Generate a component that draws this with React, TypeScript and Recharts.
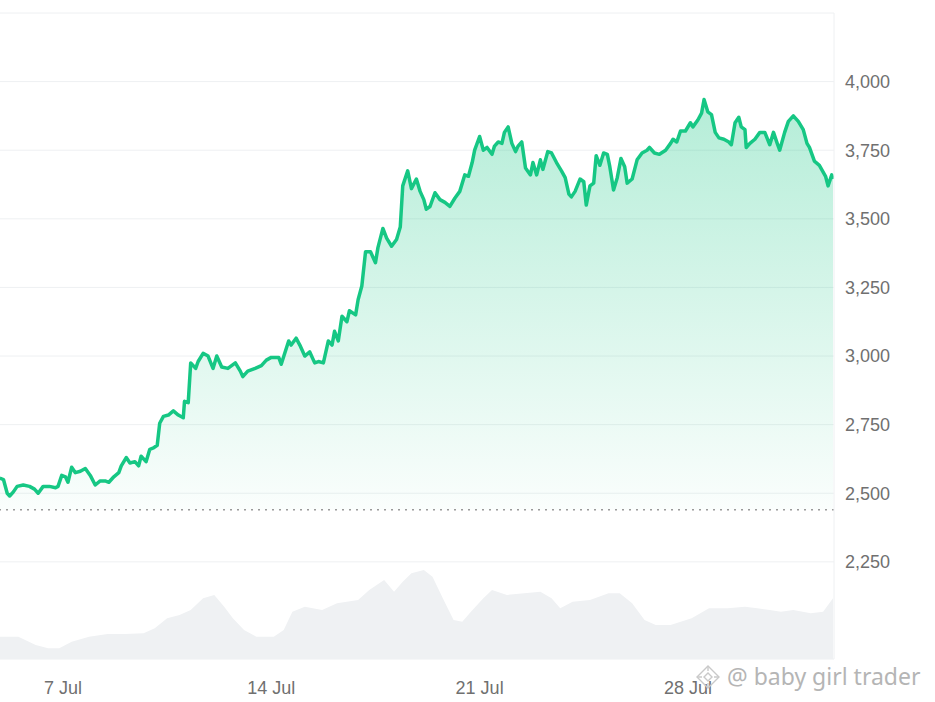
import React from 'react';
import { ComposedChart, Area, XAxis, YAxis, CartesianGrid, ReferenceLine } from 'recharts';

// time in hours since 1 Jul 00:00
const priceHours = [
  93, 96, 99, 101, 104, 107, 112, 117, 121, 124,
  128, 133, 138, 140, 143, 146, 148, 151, 154, 158,
  162, 166, 170, 174, 178, 181, 185, 189, 191, 195,
  198, 202, 205, 207, 211, 214, 217, 220, 222, 225,
  229, 233, 237, 241, 242, 245, 247, 251, 253, 257,
  261, 265, 268, 272, 277, 283, 287, 289, 293, 299,
  304, 308, 312, 318, 320, 326, 328, 332, 335, 339,
  343, 347, 350, 354, 358, 361, 363, 366, 369, 373,
  375, 380, 382, 385, 388, 392, 396, 398, 402, 405,
  409, 413, 416, 418, 422, 425, 429, 432, 435, 437,
  440, 444, 448, 452, 456, 460, 464, 468, 471, 474,
  476, 480, 483, 486, 490, 492, 495, 498, 500, 503,
  506, 509, 511, 514, 517, 521, 523, 526, 529, 531,
  535, 538, 542, 546, 549, 552, 554, 557, 561, 564,
  566, 569, 572, 574, 577, 580, 583, 585, 588, 591,
  594, 597, 599, 603, 607, 611, 615, 617, 621, 625,
  630, 634, 636, 639, 642, 646, 650, 652, 656, 659,
  661, 664, 667, 670, 673, 677, 681, 683, 686, 689,
  691, 694, 695, 698, 702, 706, 710, 714, 717, 720,
  722, 726, 729, 733, 737, 741, 744, 746, 750, 754,
  759, 761, 764, 765,
];

const priceValues = [
  2555, 2550, 2500, 2490, 2505, 2525, 2530, 2525, 2515, 2500,
  2525, 2525, 2520, 2525, 2565, 2560, 2540, 2595, 2575, 2580,
  2590, 2565, 2530, 2545, 2545, 2540, 2560, 2575, 2600, 2630,
  2610, 2615, 2600, 2635, 2615, 2660, 2665, 2675, 2755, 2780,
  2785, 2800, 2785, 2775, 2835, 2830, 2975, 2955, 2980, 3010,
  3000, 2955, 3000, 2960, 2955, 2975, 2945, 2925, 2945, 2955,
  2965, 2985, 2995, 2995, 2970, 3055, 3040, 3065, 3040, 3000,
  3015, 2975, 2980, 2975, 3055, 3040, 3090, 3055, 3145, 3125,
  3165, 3150, 3205, 3255, 3380, 3380, 3340, 3395, 3465, 3430,
  3400, 3425, 3470, 3620, 3675, 3610, 3645, 3600, 3570, 3535,
  3545, 3595, 3570, 3560, 3545, 3575, 3600, 3660, 3655, 3705,
  3750, 3800, 3750, 3760, 3735, 3765, 3780, 3775, 3815, 3835,
  3775, 3745, 3765, 3780, 3685, 3660, 3705, 3660, 3715, 3680,
  3745, 3740, 3705, 3675, 3650, 3590, 3580, 3600, 3645, 3635,
  3550, 3620, 3630, 3730, 3695, 3740, 3735, 3690, 3605, 3650,
  3720, 3690, 3630, 3645, 3715, 3740, 3750, 3760, 3740, 3735,
  3750, 3775, 3790, 3780, 3820, 3820, 3850, 3835, 3860, 3885,
  3935, 3890, 3880, 3815, 3795, 3790, 3780, 3770, 3850, 3870,
  3835, 3825, 3760, 3775, 3790, 3815, 3815, 3770, 3815, 3775,
  3750, 3815, 3855, 3875, 3855, 3825, 3775, 3760, 3710, 3695,
  3655, 3620, 3660, 3645,
];

const volumeHours = [
  93, 108, 122, 132, 141, 151, 165, 180, 194, 209,
  218, 228, 238, 247, 257, 266, 274, 281, 290, 300,
  314, 322, 329, 339, 353, 365, 382, 391, 403, 411,
  418, 425, 435, 442, 451, 459, 466, 473, 483, 490,
  502, 516, 529, 538, 545, 555, 569, 584, 593, 603,
  613, 622, 634, 651, 665, 680, 694, 704, 714, 723,
  733, 747, 757, 765,
];

const volumeValues = [
  2.76, 2.76, 1.73, 1.33, 1.33, 2.14, 2.76, 3.1, 3.1, 3.18,
  3.8, 5.04, 5.45, 6.07, 7.52, 7.93, 6.48, 5.04, 3.59, 2.76,
  2.76, 3.59, 5.86, 6.48, 6.07, 6.9, 7.31, 8.54, 9.78, 8.33,
  9.57, 10.61, 11.02, 10.19, 7.31, 4.83, 4.62, 5.86, 7.52, 8.54,
  7.93, 8.14, 8.33, 7.52, 6.28, 7.1, 7.31, 8.14, 8.14, 6.9,
  4.83, 4.21, 4.21, 5.04, 6.28, 6.28, 6.48, 6.28, 6.07, 5.86,
  6.07, 5.66, 5.86, 7.52,
];

const xTicks = [144, 312, 480, 648];
const xLabels = ['7 Jul', '14 Jul', '21 Jul', '28 Jul'];
const yTicks = [2250, 2500, 2750, 3000, 3250, 3500, 3750, 4000, 4250];
const baselinePrice = 2440;
const watermark = '@ baby girl trader';

type Row = { t: number; price?: number; volume?: number };

const rows: Row[] = (() => {
  const m = new Map<number, Row>();
  priceHours.forEach((t, i) => {
    const r = m.get(t) ?? { t };
    r.price = priceValues[i];
    m.set(t, r);
  });
  volumeHours.forEach((t, i) => {
    const r = m.get(t) ?? { t };
    r.volume = volumeValues[i];
    m.set(t, r);
  });
  return Array.from(m.values()).sort((a, b) => a.t - b.t);
})();

const fmtDate = (t: number) => {
  const i = xTicks.indexOf(t);
  return i >= 0 ? xLabels[i] : '';
};
const fmtPrice = (v: number) => (v >= 4250 ? '' : v.toLocaleString('en-US'));

const tickStyle = { fill: '#707070', fontSize: 18, fontFamily: '"Liberation Sans", Arial, sans-serif' };

export default function App() {
  return (
    <div style={{ position: 'absolute', left: 0, top: 0, width: 935, height: 702, background: '#fff' }}>
      <ComposedChart width={935} height={702} data={rows} margin={{ top: 13, right: 0, bottom: 0, left: 0 }}>
        <defs>
          <linearGradient id="priceFill" x1="0" y1="0" x2="0" y2="1">
            <stop offset="0%" stopColor="#16c784" stopOpacity={0.32} />
            <stop offset="100%" stopColor="#16c784" stopOpacity={0.02} />
          </linearGradient>
        </defs>
        <CartesianGrid yAxisId="price" vertical={false} stroke="#eef0f2" strokeWidth={1} />
        <XAxis
          dataKey="t"
          type="number"
          domain={[93.2, 765.8]}
          ticks={xTicks}
          tickFormatter={fmtDate}
          axisLine={false}
          tickLine={false}
          tickSize={0}
          tickMargin={22}
          height={43}
          tick={tickStyle}
          allowDataOverflow
          interval={0}
        />
        <YAxis
          yAxisId="price"
          orientation="right"
          domain={[1896, 4250]}
          ticks={yTicks}
          tickFormatter={fmtPrice}
          width={101}
          axisLine={{ stroke: '#eef0f2' }}
          tickLine={false}
          tickSize={0}
          tickMargin={11}
          tick={tickStyle}
          allowDataOverflow
          interval={0}
        />
        <YAxis yAxisId="vol" hide domain={[0, 80]} />
        <Area
          yAxisId="vol"
          dataKey="volume"
          type="linear"
          stroke="none"
          fill="#eff1f3"
          fillOpacity={1}
          connectNulls
          isAnimationActive={false}
          dot={false}
          activeDot={false}
        />
        <ReferenceLine yAxisId="price" y={baselinePrice} stroke="#9a9a9a" strokeDasharray="2 5" strokeWidth={1.5} />
        <Area
          yAxisId="price"
          dataKey="price"
          type="linear"
          stroke="#16c784"
          strokeWidth={3.5}
          strokeLinejoin="round"
          fill="url(#priceFill)"
          fillOpacity={1}
          baseValue={baselinePrice}
          connectNulls
          isAnimationActive={false}
          dot={false}
          activeDot={false}
        />
      </ComposedChart>
      <svg
        width={935}
        height={702}
        style={{ position: 'absolute', left: 0, top: 0, pointerEvents: 'none' }}
      >
        <g transform="translate(708,677)" fill="none" stroke="#c9c9c9" strokeWidth={1.4}>
          <path d="M0,-11 L11,0 L0,11 L-11,0 Z" />
          <path d="M0,-4 L4,0 L0,4 L-4,0 Z" />
          <path d="M0,-11 L0,-6 M11,0 L6,0 M0,11 L0,6 M-11,0 L-6,0" />
        </g>
        <text
          x={727}
          y={685}
          fill="#b5b5b5"
          fontSize={23}
          fontFamily='"Noto Sans", "Open Sans", sans-serif'
        >
          {watermark}
        </text>
      </svg>
    </div>
  );
}
